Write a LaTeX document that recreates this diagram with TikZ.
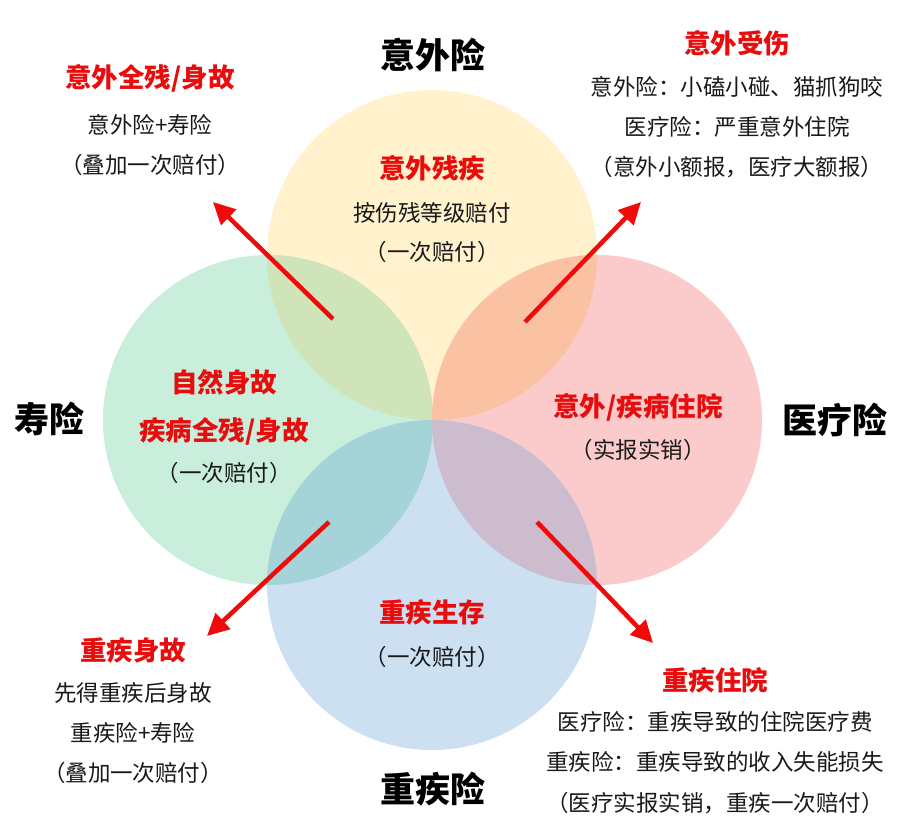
\documentclass[tikz,border=0pt]{standalone}
\usepackage{fontspec}
\setmainfont{Noto Sans CJK SC}
\usetikzlibrary{arrows.meta}
\definecolor{cyel}{HTML}{FFF2CC}
\definecolor{cgrn}{HTML}{C9EEDC}
\definecolor{cpnk}{HTML}{FBCACA}
\definecolor{cblu}{HTML}{CCE0F2}
\definecolor{cyg}{HTML}{CFE4B8}
\definecolor{cyp}{HTML}{FBC1A3}
\definecolor{cgb}{HTML}{A5D4D8}
\definecolor{cpb}{HTML}{CDBBCE}
\definecolor{cred}{RGB}{232,12,12}
\definecolor{carr}{RGB}{240,10,10}
\tikzset{
  ttl/.style={font=\fontsize{35}{42}\selectfont\bfseries, text=black},
  hd/.style={font=\fontsize{26.5}{32}\selectfont\bfseries, text=cred},
  bd/.style={font=\fontsize{22.5}{27}\selectfont, text=black!90},
  arr/.style={draw=carr, line width=4.5pt, -{Triangle[length=22pt,width=21pt]}}
}
\begin{document}
\begin{tikzpicture}[x=1pt,y=-1pt]
\useasboundingbox (0,0) rectangle (903,840);
\fill[white] (0,0) rectangle (903,840);
% circle centres
\coordinate (T) at (432,255);
\coordinate (L) at (268,420);
\coordinate (R) at (597,420);
\coordinate (B) at (432,585);
\fill[cyel] (T) circle[radius=165pt];
\fill[cgrn] (L) circle[radius=165pt];
\fill[cpnk] (R) circle[radius=165pt];
\fill[cblu] (B) circle[radius=165pt];
\begin{scope}\clip (T) circle[radius=165pt]; \fill[cyg] (L) circle[radius=165pt];\end{scope}
\begin{scope}\clip (T) circle[radius=165pt]; \fill[cyp] (R) circle[radius=165pt];\end{scope}
\begin{scope}\clip (B) circle[radius=165pt]; \fill[cgb] (L) circle[radius=165pt];\end{scope}
\begin{scope}\clip (B) circle[radius=165pt]; \fill[cpb] (R) circle[radius=165pt];\end{scope}
% titles
\node[ttl] (tT) at (433,55) {意外险};
\node[ttl] (tL) at (49,419) {寿险};
\node[ttl] (tR) at (835,420) {医疗险};
\node[ttl] (tB) at (433,789) {重疾险};
% top circle
\node[hd] (c1) at (432,168) {意外残疾};
\node[bd] (c2) at (432,213) {按伤残等级赔付};
\node[bd] (c3) at (432,252) {（一次赔付）};
% left circle
\node[hd] (l1) at (224,382) {自然身故};
\node[hd] (l2) at (224,431) {疾病全残/身故};
\node[bd] (l3) at (224,473) {（一次赔付）};
% right circle
\node[hd] (r1) at (638,407) {意外/疾病住院};
\node[bd] (r2) at (638,450) {（实报实销）};
% bottom circle
\node[hd] (b1) at (432,612) {重疾生存};
\node[bd] (b2) at (432,657) {（一次赔付）};
% top-left block
\node[hd] (tl1) at (150,78) {意外全残/身故};
\node[bd] (tl2) at (150,125) {意外险+寿险};
\node[bd] (tl3) at (150,165) {（叠加一次赔付）};
% top-right block
\node[hd] (tr1) at (737,43) {意外受伤};
\node[bd] (tr2) at (737,87) {意外险：小磕小碰、猫抓狗咬};
\node[bd] (tr3) at (737,127) {医疗险：严重意外住院};
\node[bd] (tr4) at (737,167) {（意外小额报，医疗大额报）};
% bottom-left block
\node[hd] (bl1) at (133,650) {重疾身故};
\node[bd] (bl2) at (133,693) {先得重疾后身故};
\node[bd] (bl3) at (133,733) {重疾险+寿险};
\node[bd] (bl4) at (133,773) {（叠加一次赔付）};
% bottom-right block
\node[hd] (br1) at (715,680) {重疾住院};
\node[bd] (br2) at (715,722) {医疗险：重疾导致的住院医疗费};
\node[bd] (br3) at (715,762) {重疾险：重疾导致的收入失能损失};
\node[bd] (br4) at (715,803) {（医疗实报实销，重疾一次赔付）};
% arrows
\coordinate (a1s) at (333,319); \coordinate (a1e) at (213,202);
\coordinate (a2s) at (525,322); \coordinate (a2e) at (641,202);
\coordinate (a3s) at (329,522); \coordinate (a3e) at (207,636);
\coordinate (a4s) at (537,522); \coordinate (a4e) at (653,643);
\draw[arr] (a1s) -- (a1e);
\draw[arr] (a2s) -- (a2e);
\draw[arr] (a3s) -- (a3e);
\draw[arr] (a4s) -- (a4e);
\end{tikzpicture}
\end{document}
